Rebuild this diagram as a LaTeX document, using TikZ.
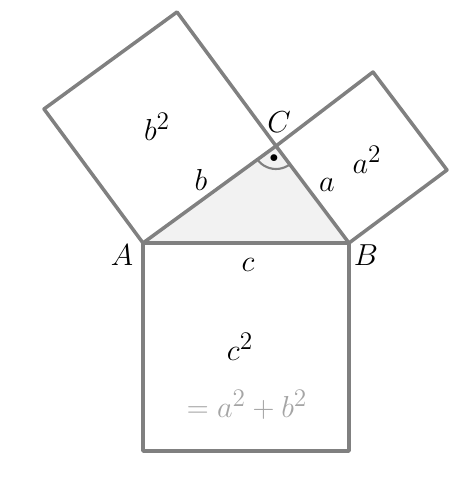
\documentclass[tikz,border=0pt]{standalone}
\usepackage{amsmath}
\usetikzlibrary{angles,quotes}
\definecolor{edgegray}{RGB}{128,128,128}
\definecolor{fillgray}{RGB}{242,242,242}
\definecolor{textgray}{RGB}{165,165,165}

\begin{document}
\begin{tikzpicture}[x=0.02cm,y=-0.02cm]
                \tikzstyle{every node}+=[inner sep=0pt]
                \tikzstyle{side}=[draw=edgegray, line width=2pt, line join=round]
                \tikzstyle{lbl}=[font=\fontsize{19}{23}\selectfont]
                \useasboundingbox (0,0) rectangle (474,478);
                % triangle
                \coordinate (A) at (143,243);
                \coordinate (B) at (349,243);
                \coordinate (C) at (276,146);
                % outer corners of the squares
                \coordinate (Ab) at (44,109);
                \coordinate (Cb) at (177,12);
                \coordinate (Ca) at (373,72);
                \coordinate (Ba) at (447,170);
                \coordinate (Ac) at (143,451);
                \coordinate (Bc) at (349,451);
                \fill [fillgray] (A) -- (B) -- (C) -- cycle;
                \draw [side] (A) -- (Ab) -- (Cb) -- (C) -- cycle;
                \draw [side] (C) -- (Ca) -- (Ba) -- (B) -- cycle;
                \draw [side] (A) -- (B) -- (Bc) -- (Ac) -- cycle;
                \pic [draw=edgegray, line width=1.2pt, angle radius=0.46cm, angle eccentricity=0.55, pic text options={font=\tiny, text=edgegray}, "$\bullet$"] {angle=A--C--B};
                % labels
                \node [lbl] (labA) at (122,255) {$A$};
                \node [lbl] (labB) at (366,255) {$B$};
                \node [lbl] (labC) at (279,122) {$C$};
                \node [lbl] (laba) at (327,185) {$a$};
                \node [lbl] (labb) at (201,180) {$b$};
                \node [lbl] (labc) at (248,265) {$c$};
                \node [lbl] (sqa) at (367,160) {$a^2$};
                \node [lbl] (sqb) at (157,127) {$b^2$};
                \node [lbl] (sqc) at (240,347) {$c^2$};
                \node [lbl, text=textgray] (sum) at (247,405) {$=a^2+b^2$};
\end{tikzpicture}
\end{document}
